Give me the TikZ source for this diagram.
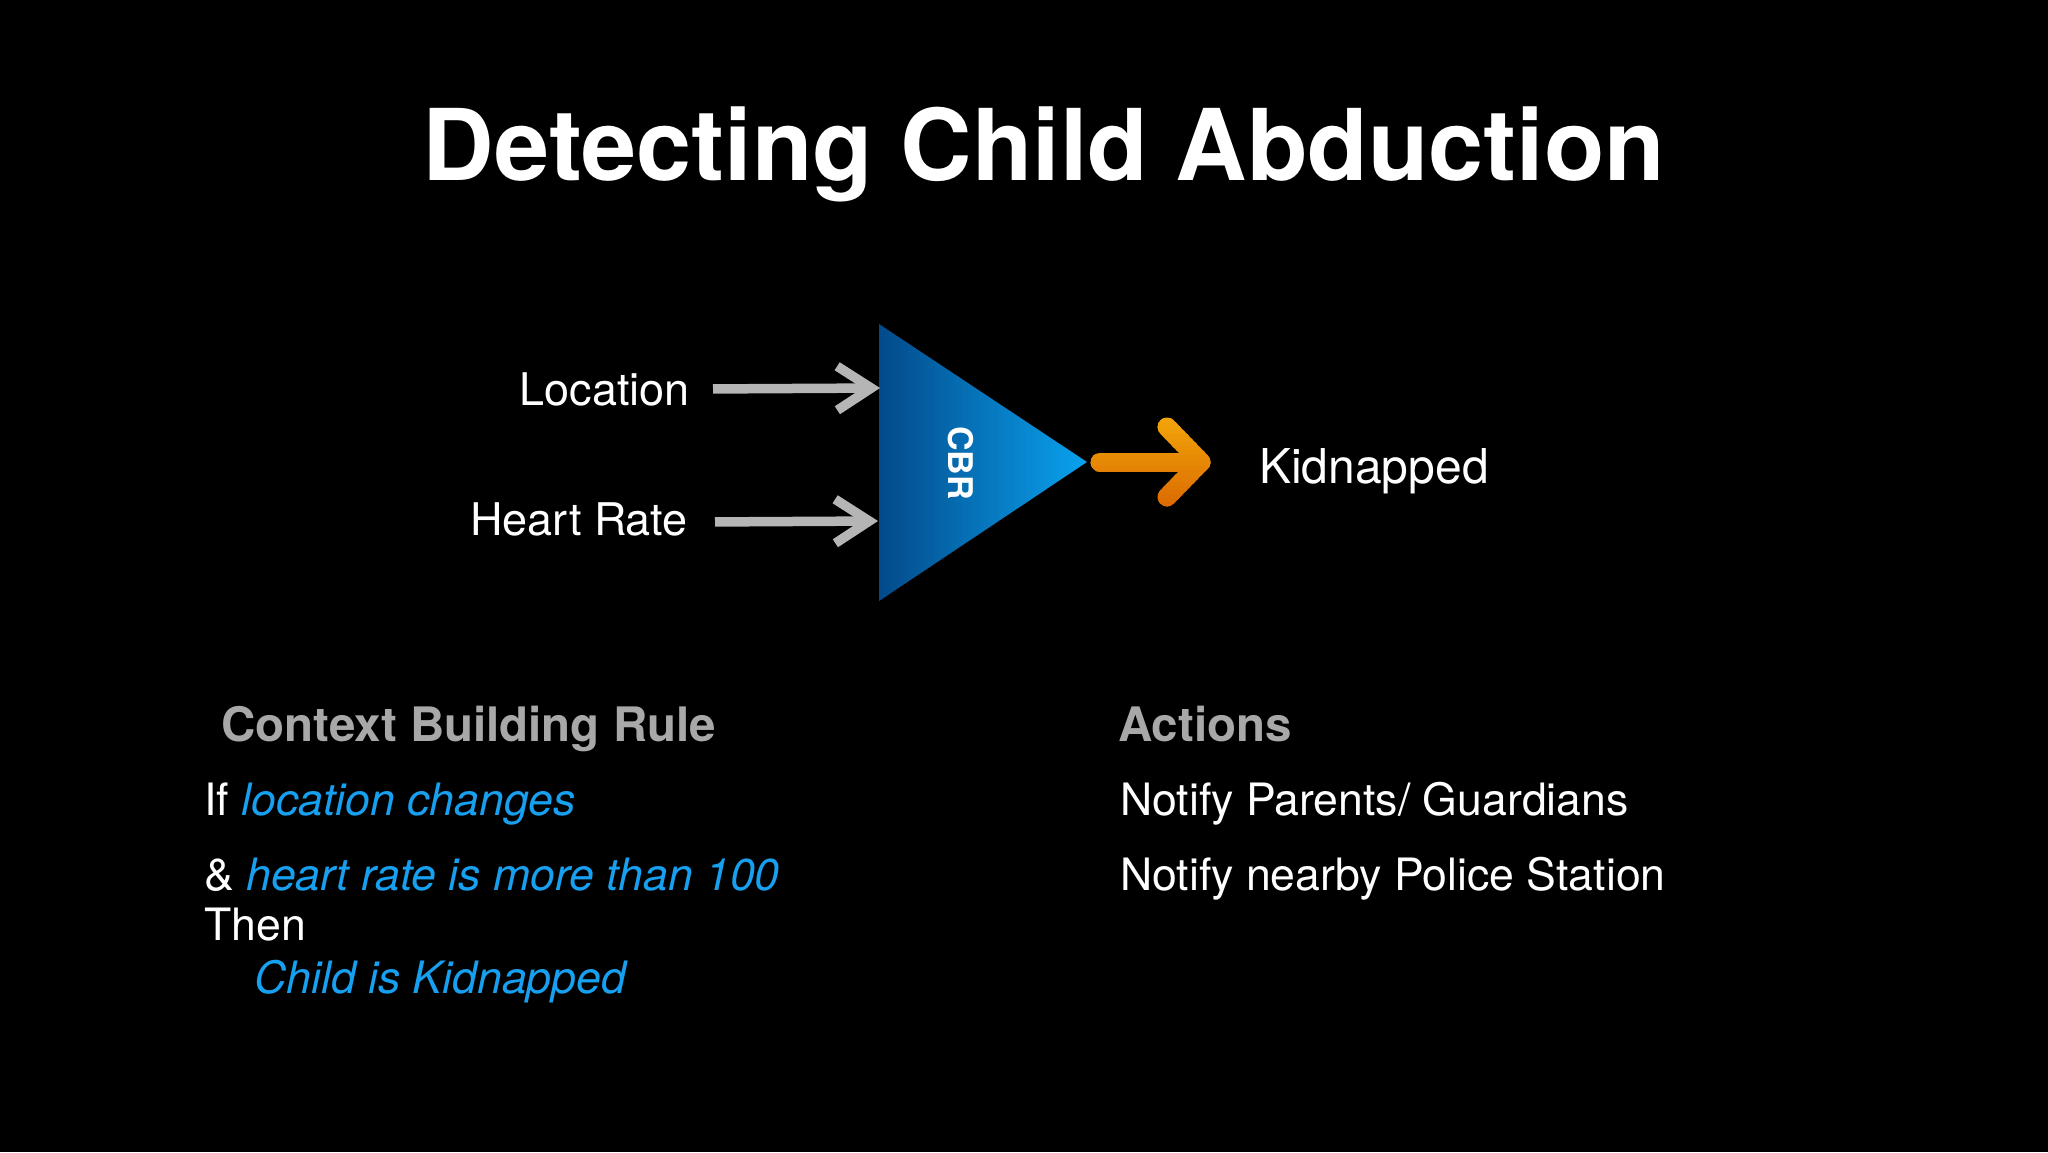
\documentclass[tikz,border=0pt]{standalone}
\usepackage{fontspec}
\setmainfont{TeX Gyre Heros}
\usetikzlibrary{arrows.meta}
\definecolor{txtblue}{HTML}{18A0F0}
\definecolor{hdgray}{HTML}{A8A8A8}
\definecolor{arrgray}{HTML}{B5B5B5}
\definecolor{tridark}{HTML}{034A8A}
\definecolor{trilight}{HTML}{0AA2EE}
\definecolor{ortop}{HTML}{F4AC0A}
\definecolor{orbot}{HTML}{D96400}
\newcommand{\setfs}[1]{\fontsize{#1}{#1}\selectfont}
\begin{document}
\begin{tikzpicture}[x=1pt,y=-1pt,
  lbl/.style={text=white,inner sep=0pt,font=\setfs{45}},
  hdr/.style={text=hdgray,inner sep=0pt,font=\setfs{47.5}\bfseries,anchor=base west},
  rule/.style={text=white,inner sep=0pt,font=\setfs{44.6},anchor=base west},
  grayarr/.style={draw=arrgray,line width=9.5pt,-{Straight Barb[length=34pt,width=44pt]}},
  orarrow/.style={line width=19pt,line cap=round,line join=round}]
\fill[black] (0,0) rectangle (2048,1152);
\useasboundingbox (0,0) rectangle (2048,1152);

% title
\node[text=white,inner sep=0pt,font=\setfs{99}\bfseries,anchor=base] (title) at (1044,180) {Detecting Child Abduction};

% triangle
\coordinate (ttop) at (879,324);
\coordinate (tbot) at (879,601);
\coordinate (tip) at (1087,462);
\shade[left color=tridark,right color=trilight] (ttop) -- (tip) -- (tbot) -- cycle;
\node[text=white,inner sep=0pt,font=\setfs{34}\bfseries,rotate=-90] (cbr) at (961,463) {CBR};

% inputs
\node[lbl,anchor=base east] (loc) at (690,405) {Location};
\node[lbl,anchor=base east] (hr) at (688,535) {Heart Rate};
\coordinate (inA) at (880,388);
\coordinate (inB) at (878,521);
\draw[grayarr] ([xshift=23pt]loc.east) -- (inA);
\draw[grayarr] ([xshift=27pt,yshift=-3pt]hr.east) -- (inB);

% output
\node[text=white,inner sep=0pt,font=\setfs{48},anchor=base west] (kid) at (1259,483) {Kidnapped};
\coordinate (ostart) at (1100,462);
\coordinate (oend) at (1201,462);
\coordinate (oc1) at (1167,427);
\coordinate (oc2) at (1167,497);
\foreach \i in {0,...,27}{
  \pgfmathsetmacro\p{100-\i*100/27}
  \begin{scope}
    \clip (1060,{406+\i*4}) rectangle (1240,{411+\i*4});
    \draw[orarrow,color=ortop!\p!orbot] (ostart) -- (oend);
    \draw[orarrow,color=ortop!\p!orbot] (oc1) -- (oend) -- (oc2);
  \end{scope}
}

% context building rule
\node[hdr] (cbrh) at (221,741) {Context Building Rule};
\node[rule] (r1) at (204,815) {If \textcolor{txtblue}{\itshape location changes}};
\node[rule] (r2) at (204,890) {\& \textcolor{txtblue}{\itshape heart rate is more than 100}};
\node[rule] (r3) at (204,940) {Then};
\node[rule] (r4) at (254,993) {\textcolor{txtblue}{\itshape Child is Kidnapped}};

% actions
\node[hdr] (acth) at (1118,741) {Actions};
\node[rule] (a1) at (1120,815) {Notify Parents/ Guardians};
\node[rule] (a2) at (1120,890) {Notify nearby Police Station};
\end{tikzpicture}
\end{document}
